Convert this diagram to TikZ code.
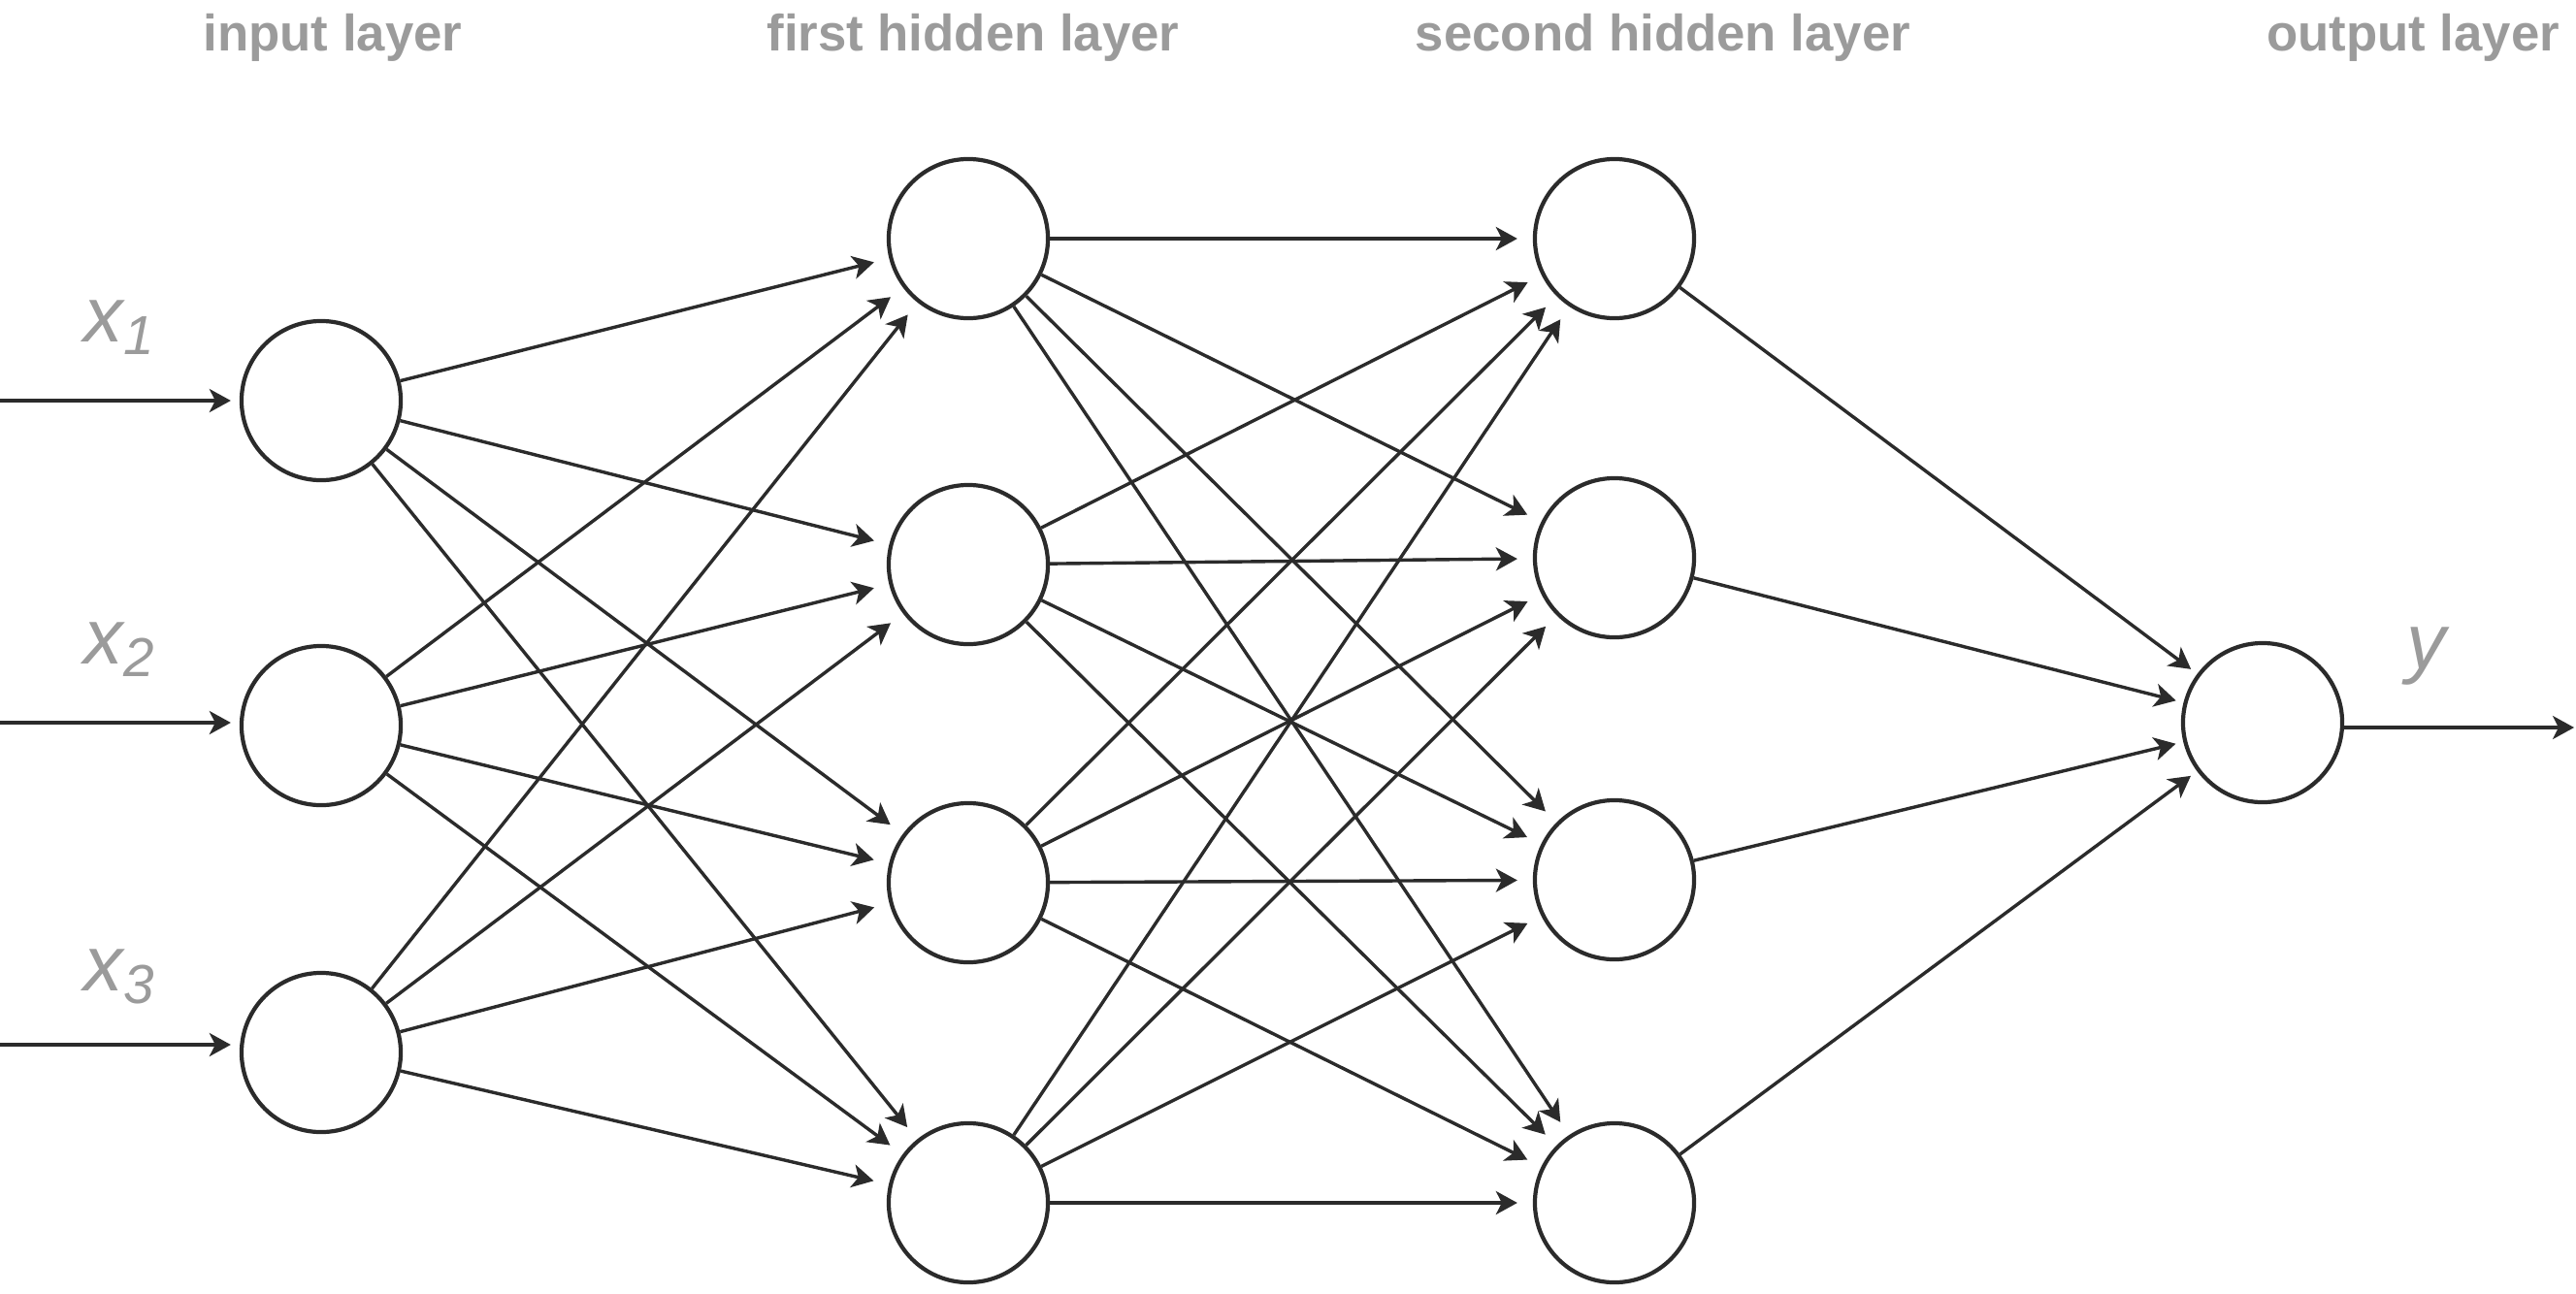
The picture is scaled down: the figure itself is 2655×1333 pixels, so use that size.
\documentclass[tikz,border=0pt]{standalone}
\usepackage{fontspec}
\setmainfont{Liberation Sans}
\usetikzlibrary{arrows.meta}
\definecolor{inkgray}{RGB}{43,43,43}
\definecolor{labelgray}{RGB}{155,155,155}
\tikzstyle{neuron}=[circle,draw=inkgray,line width=0.042cm,minimum size=1.64cm,inner sep=0pt]
\tikzstyle{layername}=[anchor=base,inner sep=0pt,text=labelgray,font=\fontsize{15}{18}\selectfont\bfseries]
\tikzstyle{varname}=[anchor=base west,inner sep=0pt,text=labelgray,font=\fontsize{23}{26}\selectfont\itshape]
\tikzstyle{link}=[->,draw=inkgray,line width=0.034cm,shorten >=0.16cm]

\begin{document}
\begin{tikzpicture}[x=0.01cm,y=-0.01cm,>={Stealth[length=0.22cm,width=0.24cm,inset=0.06cm]}]

        \useasboundingbox (0,0) rectangle (2655,1333);

      % layer titles
      \node[layername] (tin) at (343,52) {input layer};
      \node[layername] (tfirst) at (1003,52) {first hidden layer};
      \node[layername] (tsecond) at (1714,52) {second hidden layer};
      \node[layername] (tout) at (2487,52) {output layer};

      % neurons
        \foreach \n/\y in {1/413,2/748,3/1085} {
            \node[neuron] (i\n) at (331,\y) {};
        }
        \foreach \n/\y in {1/246,2/582,3/910,4/1240} {
            \node[neuron] (a\n) at (998,\y) {};
        }
        \foreach \n/\y in {1/246,2/575,3/907,4/1240} {
            \node[neuron] (b\n) at (1664,\y) {};
        }
      \node[neuron] (o) at (2332,745) {};

      % inputs
        \foreach \n/\y/\ly in {1/413/352,2/745/684,3/1077/1021} {
            \coordinate (in\n) at (0,\y);
            \draw[link,shorten >=0.09cm] (in\n) -- (in\n -| i\n.west);
            \node[varname] (x\n) at (86,\ly) {x\textsubscript{\n}};
        }

      % weights
        \foreach \i in {1,2,3} {
            \foreach \j in {1,...,4} {
                \draw[link] (i\i) -- (a\j);
            }
        }
        \foreach \i in {1,...,4} {
            \foreach \j in {1,...,4} {
                \draw[link] (a\i) -- (b\j);
            }
            \draw[link,shorten >=0.08cm] (b\i) -- (o);
        }

      % output
      \coordinate (out) at (2653,750);
      \draw[link,shorten >=0pt] (o.east |- out) -- (out);
      \node[varname] (yl) at (2480,689) {y};

  \end{tikzpicture}
\end{document}
